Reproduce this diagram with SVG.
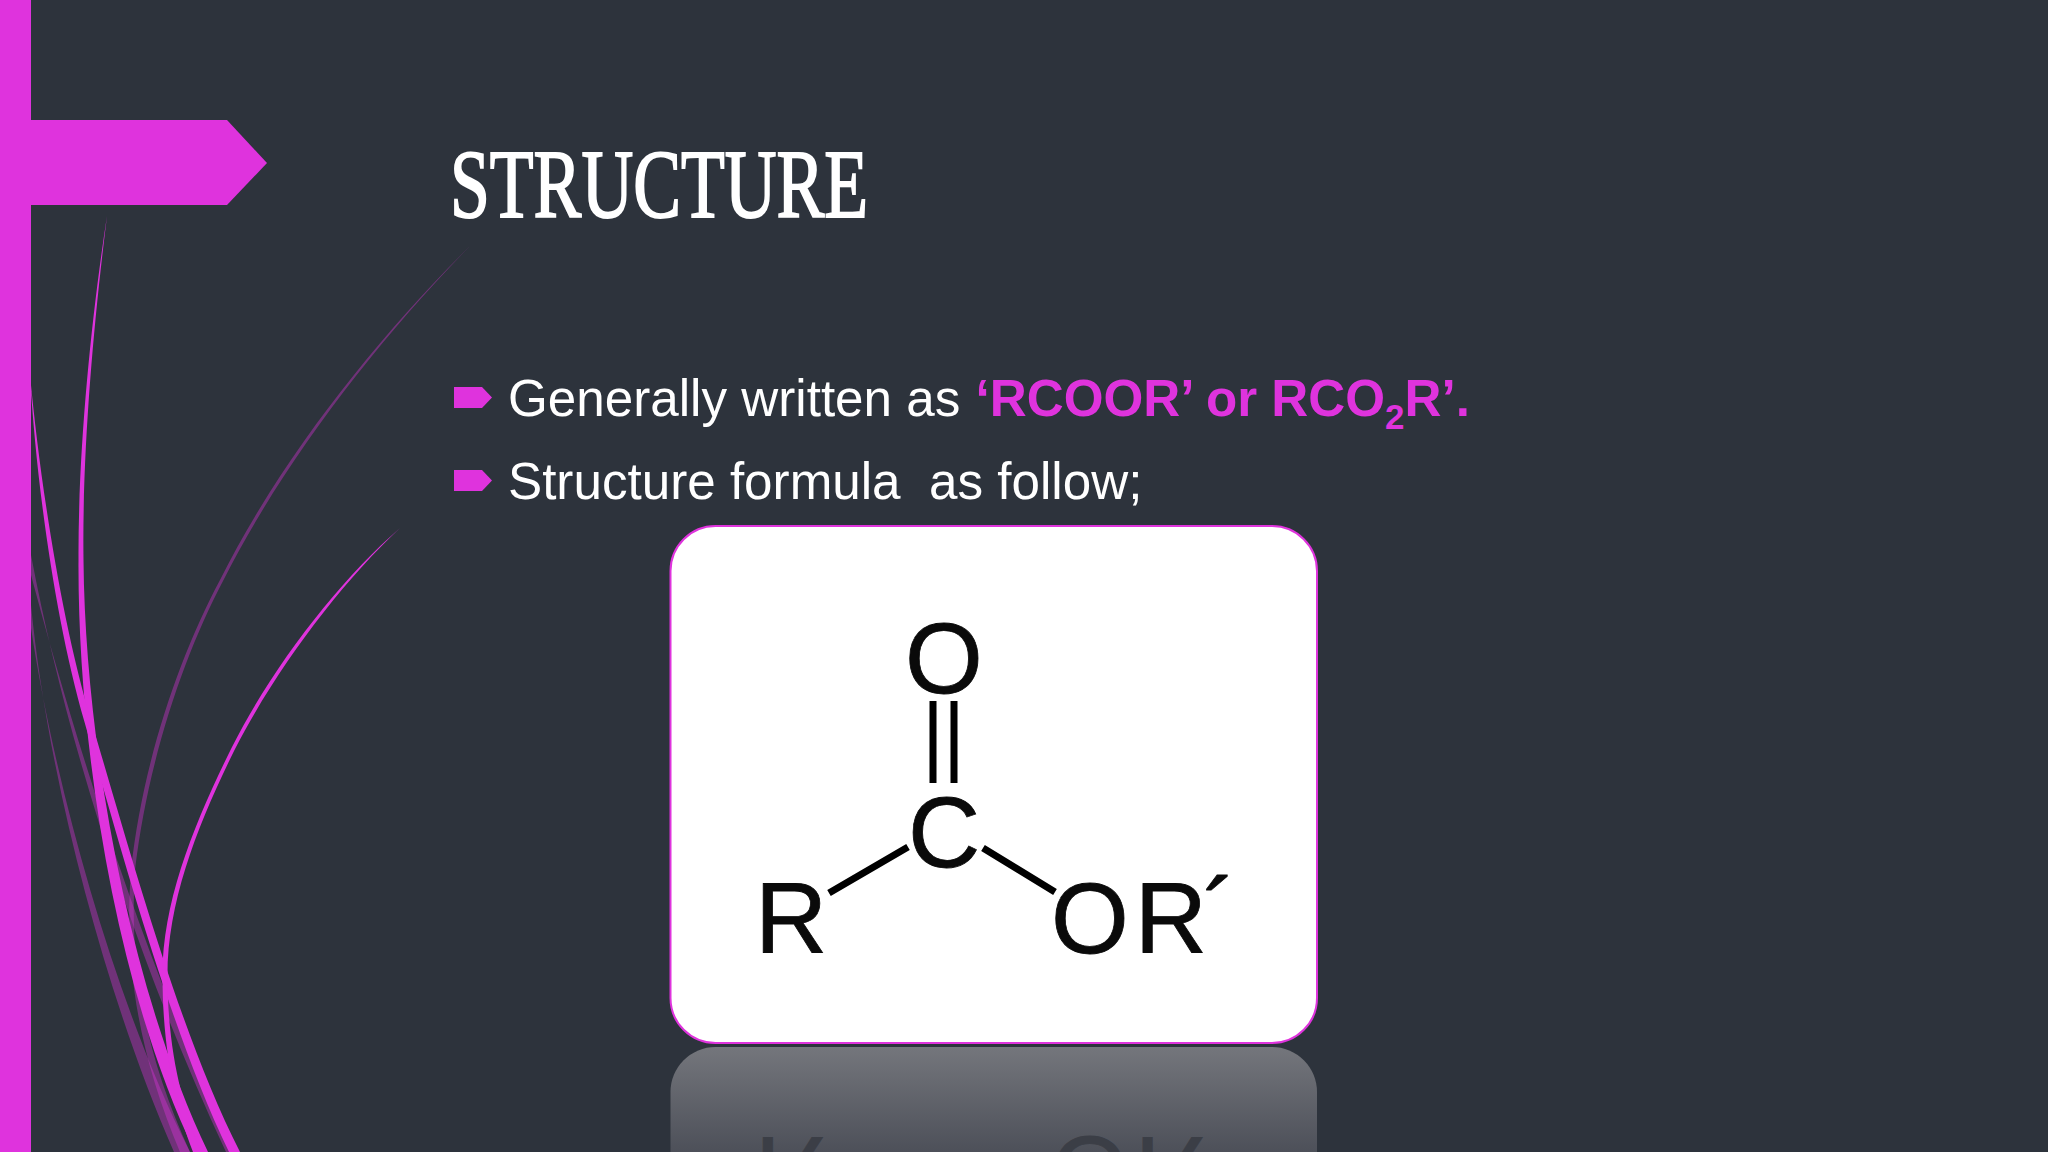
<svg xmlns="http://www.w3.org/2000/svg" width="2048" height="1152" viewBox="0 0 2048 1152">
<style>
.pink{fill:#DF33DD}
.dim{fill:#DF33DD;opacity:.38}
.body{font-family:"Liberation Sans",Arial,sans-serif;font-size:51.2px;fill:#fff;white-space:pre}
.em{font-weight:700;fill:#DF33DD}
.chem{font-family:"Liberation Sans",Arial,sans-serif;font-size:100px;font-weight:400;stroke-width:.8}
.bond{stroke:#000;stroke-width:7;fill:none}
</style>
<defs>
<linearGradient id="refl" x1="0" y1="0" x2="0" y2="1">
<stop offset="0" stop-color="#74767c"/>
<stop offset="1" stop-color="#4d5059"/>
</linearGradient>
<path id="bullet" d="M0,0H28L38,10.5L28,21H0Z"/>
</defs>
<rect width="2048" height="1152" fill="#2D333C"/>
<g id="wisps">
<path class="dim" d="M470,246C375,340 280,460 220,580C180,655 143,760 131,870C124,960 137,1050 180,1152H190C143,1050 129,960 135,870C148,760 184,655 223,581C283,462 377,341 470,246Z"/>
<path class="dim" d="M31,555C66,740 136,960 226,1152H234C143,960 75,740 31,575Z"/>
<path class="dim" d="M31,605C48,780 107,1000 174,1152H190C113,1000 54,780 31,628Z"/>
<path class="pink" d="M107,216C91,320 78,450 78.5,560C77.5,740 114,985 195,1152H208C128,985 85,740 83.5,560C82,450 94,320 107,216Z"/>
<path class="pink" d="M30,375C36,480 55,620 84.5,722C121,850 170,1030 229,1152H240C178,1030 130,850 91.5,722C61,620 40,480 30,375Z"/>
<path class="pink" d="M400,528C340,580 274,664 231.5,748C195,822 162.5,900 162.5,975C162.5,1050 175,1105 193,1152H201C182,1105 167.5,1050 167.5,975C167.5,900 199,822 234.5,750C277,667 342,582 400,528Z"/>
</g>
<g id="sidebar">
<rect class="pink" x="0" y="0" width="31" height="1152"/>
<path class="pink" d="M31,120H227L267,163L227,205H31Z"/>
</g>
<text id="title" x="450" y="217" font-family="'Liberation Serif',serif" font-size="98" fill="#fff" stroke="#fff" stroke-width="2" textLength="418" lengthAdjust="spacingAndGlyphs">STRUCTURE</text>
<g id="bullet-1">
<use href="#bullet" class="pink" x="454" y="387"/>
<text class="body" x="508" y="416">Generally written as <tspan class="em" dx="1">‘RCOOR’ or RCO<tspan font-size="35" dy="13">2</tspan><tspan dy="-13">R’.</tspan></tspan></text>
</g>
<g id="bullet-2">
<use href="#bullet" class="pink" x="454" y="470"/>
<text class="body" x="508" y="499">Structure formula  as follow;</text>
</g>
<g id="reflection">
<path d="M670.5,1152V1092A45,45 0 0 1 715.5,1047H1272A45,45 0 0 1 1317,1092V1152Z" fill="url(#refl)"/>
<g fill="#3b3e46" stroke="#3b3e46" transform="translate(0,2090) scale(1,-1)">
<text class="chem" x="755" y="953">R</text>
<text class="chem" x="1051" y="953">O<tspan dx="6">R</tspan></text>
</g>
</g>
<g id="card">
<rect x="670.5" y="526" width="646.5" height="517" rx="45" ry="45" fill="#fff" stroke="#DF33DD" stroke-width="2"/>
<g fill="#0a0a0a" stroke="#0a0a0a">
<text class="chem" x="944" y="693" text-anchor="middle">O</text>
<text class="chem" x="944" y="867" text-anchor="middle">C</text>
<text class="chem" x="755" y="953">R</text>
<text class="chem" x="1051" y="953">O<tspan dx="6">R</tspan><tspan dx="-4" dy="-4">´</tspan></text>
</g>
<g class="bond">
<path d="M933,701V783M954,701V783M829,893L908,847M983,848L1055,892"/>
</g>
</g>
</svg>
